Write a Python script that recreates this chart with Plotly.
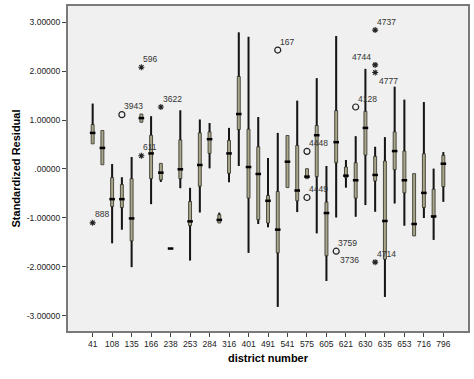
import plotly.graph_objects as go

# ---- data ----
n_districts = 37
tick_labels = ["41", "108", "135", "166", "238", "253", "284", "316", "401", "491",
               "541", "575", "605", "621", "630", "635", "653", "716", "796"]
# one entry per district (position order)
upper = [1.335, 0.786, 0.10, -0.17, 0.244, 1.123, 1.077, 0.115, -1.625, 1.198,
         -0.386, 1.01, 0.94, -0.894, 0.839, 2.79, 2.70, 1.062, 0.223, 0.737,
         0.684, 1.395, 0.006, 1.855, 0.061, 2.716, 0.183, 0.67, 2.045, 0.453,
         0.65, 1.68, 1.416, -0.095, 1.367, 0.006, 0.345]
q3 = [0.908, 0.786, -0.176, -0.318, -0.197, 1.123, 0.69, 0.115, -1.625, 0.595,
      -0.664, 0.737, 0.758, -0.934, 0.583, 1.889, 0.813, 0.453, -0.542, -0.461,
      0.684, 0.481, 0.006, 0.888, -0.677, 1.192, 0.04, 0.128, 1.178, 0.258,
      0.162, 0.758, 0.366, -0.095, 0.311, -0.413, 0.278]
median = [0.737, 0.43, -0.616, -0.616, -1.01, 1.04, 0.318, -0.075, -1.625, -0.006,
          -1.07, 0.081, 0.609, -1.04, 0.318, 1.123, 0.04, -0.102, -0.65, -1.239,
          0.149, -0.44, -0.156, 0.69, -0.9, 0.548, -0.136, -0.23, 0.839, -0.122,
          -1.063, 0.366, -0.23, -1.124, -0.488, -0.969, 0.108]
q1 = [0.514, 0.087, -0.765, -0.786, -1.469, 0.955, -0.197, -0.223, -1.625, -0.197,
      -1.158, -0.351, 0.318, -1.103, -0.087, 0.806, -0.595, -1.036, -1.103, -1.713,
      -0.379, -0.65, -0.197, -0.156, -1.773, 0.128, -0.177, -0.595, 0.284, -0.244,
      -1.842, -0.013, -0.488, -1.367, -0.786, -0.989, -0.36]
lower = [0.514, 0.087, -1.517, -1.239, -2.005, 0.955, -0.718, -0.264, -1.625, -0.392,
         -1.869, -0.888, 0.014, -1.103, -0.27, 0.061, -1.713, -1.124, -1.192, -2.817,
         -0.379, -0.88, -0.197, -1.314, -2.289, -0.989, -0.38, -0.975, -0.737, -0.873,
         -2.614, -0.704, -1.158, -1.367, -1.002, -1.449, -0.67]

# outliers: (position index, value, case label)
circle_pos = [3, 19, 22, 22, 25, 27]
circle_val = [1.11, 2.43, 0.36, -0.583, -1.68, 1.266]
star_pos = [0, 5, 5, 7, 29, 29, 29, 29]
star_val = [-1.10, 2.08, 0.27, 1.266, 2.838, 2.127, 1.97, -1.903]
# label texts with their anchor point
label_text = ["888", "3943", "596", "611", "3622", "167", "4448", "4449",
              "3759", "3736", "4128", "4737", "4744", "4777", "4714"]
label_pos = [0, 3, 5, 5, 7, 19, 22, 22, 25, 25, 27, 29, 29, 29, 29]
label_val = [-1.10, 1.11, 2.08, 0.27, 1.266, 2.43, 0.36, -0.583, -1.68, -1.68,
             1.266, 2.838, 2.127, 1.97, -1.903]
label_side = ["tr", "tr", "tr", "tr", "tr", "tr", "tr", "tr", "tr", "br",
              "tr", "tr", "tl", "br", "tr"]

positions = list(range(n_districts))
ytick_vals = [3, 2, 1, 0, -1, -2, -3]
ytick_text = ["3.00000", "2.00000", "1.00000", ".00000", "-1.00000", "-2.00000", "-3.00000"]

FONT = "Liberation Sans, Arial, sans-serif"
BOX_FILL = "#ABA78B"

fig = go.Figure()

fig.add_trace(go.Box(
    x=positions, q1=q1, median=median, q3=q3,
    lowerfence=lower, upperfence=upper,
    width=0.3, whiskerwidth=0, boxpoints=False,
    fillcolor=BOX_FILL, line=dict(color="#4a4a40", width=1),
    hoverinfo="skip",
))

# whiskers (thicker, black)
wx, wy = [], []
for p, u, a, b, lo in zip(positions, upper, q3, q1, lower):
    if u > a:
        wx += [p, p, None]
        wy += [a, u, None]
    if lo < b:
        wx += [p, p, None]
        wy += [b, lo, None]
fig.add_trace(go.Scatter(x=wx, y=wy, mode="lines",
                         line=dict(color="#151515", width=2), hoverinfo="skip"))

# medians
fig.add_trace(go.Scatter(x=positions, y=median, mode="markers",
                         marker=dict(symbol="line-ew", size=4, color="#000000",
                                     line=dict(color="#000000", width=2.5)),
                         hoverinfo="skip"))

# outliers
fig.add_trace(go.Scatter(x=circle_pos, y=circle_val, mode="markers",
                         marker=dict(symbol="circle-open", size=6, color="#222222",
                                     line=dict(color="#222222", width=1.2)),
                         hoverinfo="skip"))
fig.add_trace(go.Scatter(x=star_pos, y=star_val, mode="markers",
                         marker=dict(symbol="asterisk-open", size=5, color="#222222",
                                     line=dict(color="#222222", width=1.1)),
                         hoverinfo="skip"))

for t, p, v, s in zip(label_text, label_pos, label_val, label_side):
    if s == "tr":
        kw = dict(xanchor="left", xshift=0, yshift=8.5)
    elif s == "br":
        kw = dict(xanchor="left", xshift=2, yshift=-8.5)
    else:
        kw = dict(xanchor="right", xshift=-2, yshift=7.5)
    fig.add_annotation(x=p, y=v, text=t, showarrow=False, yanchor="middle",
                       font=dict(family=FONT, size=8.5, color="#333333"), **kw)

fig.update_layout(
    width=474, height=379,
    margin=dict(l=68, r=5, t=4, b=48),
    paper_bgcolor="white", plot_bgcolor="#F0F0F0",
    showlegend=False,
    font=dict(family=FONT, size=8.5, color="#222222"),
)
fig.update_xaxes(
    range=[-2.53, 38.53],
    tickvals=positions[::2], ticktext=tick_labels,
    ticks="outside", ticklen=4, tickcolor="#444444", tickwidth=1,
    showline=True, mirror=True, linecolor="#7a7a7a", linewidth=2,
    showgrid=False, zeroline=False,
    title=dict(text="<b>district number</b>", standoff=6,
               font=dict(family=FONT, size=11, color="#000000")),
)
fig.update_yaxes(
    range=[-3.31, 3.33],
    tickvals=ytick_vals, ticktext=ytick_text,
    ticks="outside", ticklen=4, tickcolor="#444444", tickwidth=1,
    showline=True, mirror=True, linecolor="#7a7a7a", linewidth=2,
    showgrid=False, zeroline=False,
    title=dict(text="<b>Standardized Residual</b>", standoff=4,
               font=dict(family=FONT, size=11, color="#000000")),
)

fig.write_html("out.html", config={"displayModeBar": False},
               post_script="document.body.style.margin='0px';")
